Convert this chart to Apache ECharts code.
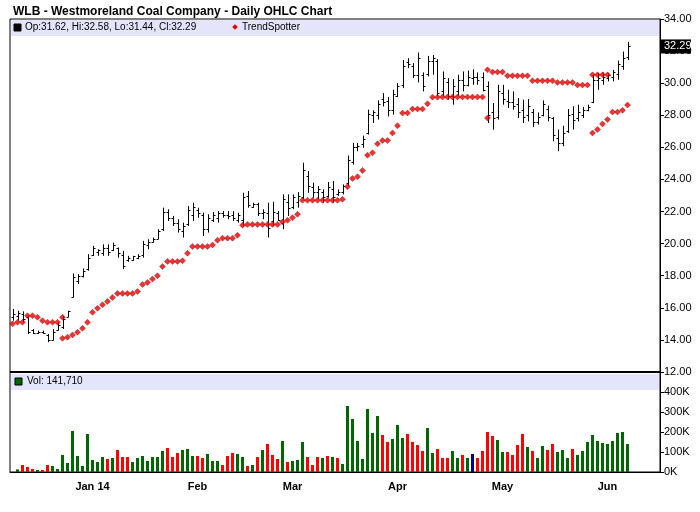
<!DOCTYPE html>
<html>
<head>
<meta charset="utf-8">
<script src="https://cdn.jsdelivr.net/npm/echarts@6/dist/echarts.min.js"></script>
<style>
    html, body { margin: 0; padding: 0; background: #fff; }
    #main { width: 700px; height: 512px; }
</style>
</head>
<body>
<div id="main"></div>
<script>
// 数据 (Dec 9 2013 .. Jun 6 2014)
var highs = [15.93, 15.82, 15.78, 15.51, 14.68, 14.58, 14.58, 14.37, 14.68, 15.10,
    15.51, 15.82, 18.14, 18.10, 18.45, 19.34, 19.86, 19.65, 19.96, 19.96,
    20.07, 19.76, 19.55, 19.24, 19.24, 19.34, 20.17, 20.27, 20.38, 20.89,
    22.24, 22.14, 21.72, 21.52, 21.31, 22.34, 22.55, 22.24, 21.93, 21.83,
    21.97, 22.03, 22.03, 22.03, 22.03, 21.93, 23.17, 23.28, 22.55, 22.55,
    22.14, 22.55, 22.61, 22.03, 23.07, 23.07, 23.07, 23.21, 25.04, 24.52,
    23.80, 23.59, 23.38, 23.84, 23.90, 23.38, 23.69, 25.49, 26.28, 26.28,
    26.73, 28.35, 28.31, 28.93, 29.38, 29.14, 29.59, 30.00, 31.45, 31.56,
    31.25, 31.91, 30.67, 31.70, 31.76, 31.50, 30.73, 30.32, 30.25, 30.52,
    30.73, 30.79, 30.87, 30.67, 30.67, 30.11, 28.76, 29.90, 29.90, 29.59,
    29.49, 29.07, 28.97, 29.01, 28.39, 28.18, 28.93, 28.60, 27.89, 27.11,
    27.35, 28.39, 28.56, 28.66, 28.52, 28.66, 30.52, 30.63, 30.67, 30.63,
    30.83, 31.41, 31.97, 32.58];
var lows = [15.20, 15.20, 15.10, 14.37, 14.37, 14.37, 14.37, 13.86, 13.96, 14.58,
    14.68, 15.41, 16.65, 17.48, 17.89, 18.31, 19.24, 19.24, 19.24, 19.24,
    19.55, 19.13, 18.41, 18.87, 18.93, 19.03, 19.13, 19.65, 20.07, 20.27,
    20.79, 21.41, 21.10, 20.69, 20.38, 21.10, 21.41, 21.62, 20.48, 20.69,
    21.35, 21.31, 21.62, 21.52, 21.41, 21.31, 21.10, 22.24, 22.24, 21.72,
    21.52, 20.38, 21.10, 21.41, 20.90, 21.72, 22.14, 22.24, 22.76, 23.17,
    22.86, 22.76, 22.55, 22.86, 22.55, 22.97, 23.07, 23.59, 24.93, 25.76,
    25.97, 26.80, 27.52, 27.73, 28.55, 27.93, 28.04, 29.14, 29.69, 30.94,
    30.32, 30.05, 29.49, 30.42, 30.52, 29.18, 29.18, 28.97, 28.66, 29.18,
    29.49, 29.80, 29.90, 29.90, 29.49, 27.52, 27.10, 27.73, 28.66, 28.45,
    28.35, 27.83, 27.52, 27.62, 27.27, 27.42, 27.93, 27.62, 26.38, 25.76,
    26.07, 26.90, 27.11, 27.62, 27.83, 28.25, 28.76, 29.59, 29.90, 30.11,
    30.11, 30.21, 30.83, 31.44];
var opens = [15.4, 15.5, 15.6, 15.4, 14.6, 14.4, 14.5, 14.3, 14.0, 14.6,
    14.8, 15.45, 16.7, 17.7, 18.0, 18.4, 19.3, 19.5, 19.4, 19.7,
    19.6, 19.7, 19.3, 19.0, 19.0, 19.1, 19.3, 19.9, 20.1, 20.3,
    20.9, 22.0, 21.6, 21.3, 20.8, 21.2, 21.8, 22.1, 21.8, 20.9,
    21.5, 21.6, 21.9, 21.8, 21.8, 21.5, 21.5, 23.0, 22.3, 22.5,
    21.9, 21.9, 21.4, 21.9, 21.3, 22.6, 22.3, 22.6, 22.9, 24.2,
    23.5, 23.2, 23.2, 23.0, 23.4, 23.1, 23.2, 23.8, 25.1, 26.0,
    26.2, 26.9, 28.0, 28.0, 29.0, 28.9, 28.3, 29.2, 29.9, 31.3,
    31.1, 30.5, 30.5, 30.6, 31.4, 31.4, 29.5, 30.1, 29.2, 29.5,
    30.2, 29.9, 30.3, 30.4, 30.4, 29.8, 28.2, 27.9, 29.4, 28.9,
    28.8, 28.7, 28.3, 28.0, 28.2, 27.6, 28.0, 28.4, 27.8, 26.6,
    26.3, 27.0, 28.1, 27.8, 28.0, 28.3, 28.8, 30.2, 30.2, 30.3,
    30.4, 30.6, 31.1, 31.62];
var closes = [15.6, 15.7, 15.3, 14.5, 14.45, 14.5, 14.45, 14.0, 14.5, 14.9,
    15.3, 15.8, 17.9, 18.0, 18.3, 19.1, 19.7, 19.6, 19.7, 19.5,
    19.9, 19.4, 18.6, 19.1, 19.2, 19.25, 20.0, 20.1, 20.3, 20.8,
    22.0, 21.6, 21.3, 20.9, 21.1, 22.1, 22.3, 21.9, 20.9, 21.6,
    21.8, 21.9, 21.8, 21.7, 21.6, 21.8, 22.9, 22.4, 22.5, 21.9,
    22.0, 21.0, 22.0, 21.5, 22.8, 22.2, 22.9, 23.0, 24.6, 23.6,
    23.2, 23.4, 22.9, 23.5, 22.9, 23.2, 23.6, 25.2, 26.0, 26.1,
    26.5, 28.1, 28.2, 28.7, 28.8, 28.3, 29.3, 29.8, 31.1, 31.2,
    30.5, 31.6, 29.8, 31.4, 31.6, 29.4, 30.3, 29.2, 29.8, 30.2,
    29.9, 30.4, 30.4, 30.2, 29.6, 28.0, 27.8, 29.5, 29.0, 28.8,
    28.6, 28.2, 27.9, 28.6, 27.6, 27.9, 28.7, 27.9, 26.8, 26.3,
    26.9, 28.0, 27.7, 28.2, 28.3, 28.5, 30.2, 30.3, 30.4, 30.5,
    30.7, 31.2, 31.6, 32.29];
var trendSpotter = [15.0, 15.1, 15.1, 15.51, 15.51, 15.41, 15.2, 15.1, 15.1, 15.1,
    14.1, 14.17, 14.31, 14.48, 14.72, 15.1, 15.72, 15.97, 16.19, 16.4,
    16.65, 16.9, 16.9, 16.9, 16.9, 17.02, 17.46, 17.58, 17.79, 18.0,
    18.58, 18.89, 18.89, 18.89, 18.93, 19.4, 19.82, 19.82, 19.82, 19.82,
    19.92, 20.21, 20.34, 20.34, 20.34, 20.52, 21.15, 21.2, 21.2, 21.2,
    21.2, 21.2, 21.2, 21.2, 21.35, 21.45, 21.62, 21.83, 22.7, 22.7,
    22.7, 22.7, 22.7, 22.7, 22.7, 22.7, 22.76, 23.55, 24.06, 24.17,
    24.56, 25.51, 25.66, 26.22, 26.42, 26.42, 26.9, 27.35, 28.14, 28.14,
    28.39, 28.39, 28.39, 28.72, 29.13, 29.13, 29.14, 29.14, 29.14, 29.14,
    29.14, 29.14, 29.14, 29.14, 29.14, 30.83, 30.69, 30.69, 30.69, 30.46,
    30.46, 30.46, 30.46, 30.46, 30.15, 30.15, 30.15, 30.15, 30.15, 30.05,
    30.05, 30.05, 30.05, 29.88, 29.88, 29.88, 26.9, 27.11, 27.46, 27.73,
    28.2, 28.2, 28.31, 28.64];
// 翻转时的第二个点 (index -> value)
var trendSwitchIdx = [10, 95, 116, 117, 118, 119];
var trendSwitchVal = [15.41, 27.83, 30.52, 30.52, 30.52, 30.52];
var volumes = [null, 13000, 35000, 25000, 15000, 10000, 10000, 35000, 30000, 15000,
    85000, 45000, 205000, 80000, 30000, 190000, 60000, 50000, 75000, 65000,
    70000, 110000, 75000, 75000, 50000, 70000, 80000, 55000, 75000, 75000,
    105000, 120000, 75000, 95000, 110000, 115000, 80000, 80000, 70000, 90000,
    55000, 55000, 35000, 80000, 95000, 90000, 75000, 30000, 35000, 75000,
    110000, 140000, 85000, 65000, 155000, 50000, 55000, 60000, 150000, 75000,
    35000, 75000, 70000, 80000, 75000, 70000, 40000, 330000, 265000, 155000,
    65000, 315000, 195000, 280000, 185000, 150000, 165000, 235000, 170000, 190000,
    150000, 135000, 105000, 220000, 95000, 115000, 70000, 70000, 105000, 70000,
    85000, 70000, 90000, 70000, 105000, 200000, 180000, 160000, 100000, 100000,
    85000, 135000, 190000, 125000, 105000, 70000, 130000, 110000, 140000, 100000,
    110000, 70000, 115000, 85000, 105000, 150000, 185000, 155000, 145000, 140000,
    155000, 195000, 200000, 140000];
// u = up, d = down, f = flat (groups of 10)
var volDir = 'xudddudduu' + 'uuuuuuuuud' + 'uddduuuuuu' + 'uddduuuddu' + 'uuddduudud' +
    'uddduduuud' + 'ddududuuuu' + 'uuuudduuud' + 'ddduuddduu' + 'dufdddduud' +
    'ddduduuddu' + 'uuduuuuuuu' + 'uuuu';
var monthIdx = [16, 37, 56, 77, 98, 119];
var monthNames = ['Jan 14', 'Feb', 'Mar', 'Apr', 'May', 'Jun'];
var slotCount = 130;

var cats = [];
for (var i = 0; i < slotCount; i++) {
    var k = monthIdx.indexOf(i);
    cats.push(k >= 0 ? monthNames[k] : '');
}
var ohlc = [];
for (var i = 0; i < highs.length; i++) {
    ohlc.push([i, opens[i], highs[i], lows[i], closes[i]]);
}
var switchData = [];
for (var i = 0; i < trendSwitchIdx.length; i++) {
    switchData.push([trendSwitchIdx[i], trendSwitchVal[i]]);
}
var volColor = { u: '#006600', d: '#ff0000', f: '#000080', x: '#006600' };
var volData = volumes.map(function (v, i) {
    return { value: v, itemStyle: { color: volColor[volDir.charAt(i)] } };
});

var myChart = echarts.init(document.getElementById('main'));
var font = 'Liberation Sans, Arial, sans-serif';
var option = {
    animation: false,
    textStyle: { fontFamily: font },
    title: {
        text: 'WLB - Westmoreland Coal Company - Daily OHLC Chart',
        left: 8, top: 1,
        textStyle: { fontSize: 12, fontWeight: 'bold', color: '#000', fontFamily: font }
    },
    grid: [
        { left: 10, right: 40, top: 19, height: 353, show: true, borderColor: '#000', borderWidth: 1 },
        { left: 10, right: 40, top: 372, height: 100, show: true, borderColor: '#000', borderWidth: 1 }
    ],
    xAxis: [
        { type: 'category', gridIndex: 0, data: cats, boundaryGap: true,
          axisLine: { show: false }, axisTick: { show: false }, axisLabel: { show: false } },
        { type: 'category', gridIndex: 1, data: cats, boundaryGap: true,
          axisLine: { lineStyle: { color: '#000' } }, axisTick: { show: false },
          axisLabel: { interval: 0, color: '#000', fontWeight: 'bold', fontSize: 11, margin: 9 } }
    ],
    yAxis: [
        { type: 'value', gridIndex: 0, position: 'right', min: 12, max: 34, interval: 2,
          splitLine: { show: false },
          axisLine: { show: true, lineStyle: { color: '#000' } },
          axisTick: { show: true, length: 4, lineStyle: { color: '#000' } },
          axisLabel: { color: '#000', fontSize: 11, margin: 4, formatter: function (v) { return v.toFixed(2); } } },
        { type: 'value', gridIndex: 1, position: 'right', min: 0, max: 500000, interval: 100000,
          splitLine: { show: false },
          axisLine: { show: true, lineStyle: { color: '#000' } },
          axisTick: { show: true, length: 4, lineStyle: { color: '#000' } },
          axisLabel: { color: '#000', fontSize: 11, margin: 4,
              formatter: function (v) { return v >= 500000 ? '' : (v / 1000) + 'K'; } } }
    ],
    series: [
        {
            type: 'custom', xAxisIndex: 0, yAxisIndex: 0, data: ohlc, z: 3,
            renderItem: function (params, api) {
                var x = api.coord([api.value(0), 0])[0];
                var o = api.coord([api.value(0), api.value(1)])[1];
                var h = api.coord([api.value(0), api.value(2)])[1];
                var l = api.coord([api.value(0), api.value(3)])[1];
                var c = api.coord([api.value(0), api.value(4)])[1];
                x = Math.round(x) + 0.5;
                var st = { stroke: '#000', lineWidth: 1 };
                return { type: 'group', children: [
                    { type: 'line', shape: { x1: x, y1: h, x2: x, y2: l }, style: st },
                    { type: 'line', shape: { x1: x - 2, y1: Math.round(o) + 0.5, x2: x, y2: Math.round(o) + 0.5 }, style: st },
                    { type: 'line', shape: { x1: x, y1: Math.round(c) + 0.5, x2: x + 2, y2: Math.round(c) + 0.5 }, style: st }
                ] };
            }
        },
        { type: 'scatter', xAxisIndex: 0, yAxisIndex: 0, data: trendSpotter, symbol: 'diamond', symbolSize: 6,
          itemStyle: { color: '#e60000', borderColor: '#a00000', borderWidth: 0.5 }, z: 4 },
        { type: 'scatter', xAxisIndex: 0, yAxisIndex: 0, data: switchData, symbol: 'diamond', symbolSize: 6,
          itemStyle: { color: '#e60000', borderColor: '#a00000', borderWidth: 0.5 }, z: 4 },
        { type: 'bar', xAxisIndex: 1, yAxisIndex: 1, data: volData, barWidth: 3 }
    ]
};
myChart.setOption(option);

// 图例条和最新价标签
var last = closes[closes.length - 1];
var py = myChart.convertToPixel({ yAxisIndex: 0 }, last);
myChart.setOption({
    graphic: [
        { type: 'rect', shape: { x: 11, y: 20, width: 648, height: 16 }, style: { fill: '#e4e4fa' }, z: 1 },
        { type: 'rect', shape: { x: 14, y: 24, width: 7, height: 7 }, style: { fill: '#000', stroke: '#000' }, z: 2 },
        { type: 'text', x: 25, y: 22, style: { text: 'Op:31.62, Hi:32.58, Lo:31.44, Cl:32.29', fontSize: 10, fontFamily: font, fill: '#000' }, z: 2 },
        { type: 'rect', shape: { x: 233, y: 25, width: 4, height: 4 }, rotation: Math.PI / 4, originX: 235, originY: 27, style: { fill: '#e60000' }, z: 2 },
        { type: 'text', x: 242, y: 22, style: { text: 'TrendSpotter', fontSize: 10, fontFamily: font, fill: '#000' }, z: 2 },
        { type: 'rect', shape: { x: 11, y: 374, width: 648, height: 16 }, style: { fill: '#e4e4fa' }, z: 1 },
        { type: 'rect', shape: { x: 15, y: 378, width: 7, height: 7 }, style: { fill: '#006600', stroke: '#000' }, z: 2 },
        { type: 'text', x: 27, y: 376, style: { text: 'Vol: 141,710', fontSize: 10, fontFamily: font, fill: '#000' }, z: 2 },
        { type: 'line', shape: { x1: 10, y1: 372, x2: 660, y2: 372 }, style: { stroke: '#000', lineWidth: 2 }, z: 5 },
        { type: 'rect', shape: { x: 661, y: py - 7, width: 30, height: 14 }, style: { fill: '#000' }, z: 10 },
        { type: 'text', x: 664, y: py - 6, style: { text: last.toFixed(2), fontSize: 11, fontFamily: font, fill: '#fff' }, z: 11 }
    ]
});
</script>
</body>
</html>
